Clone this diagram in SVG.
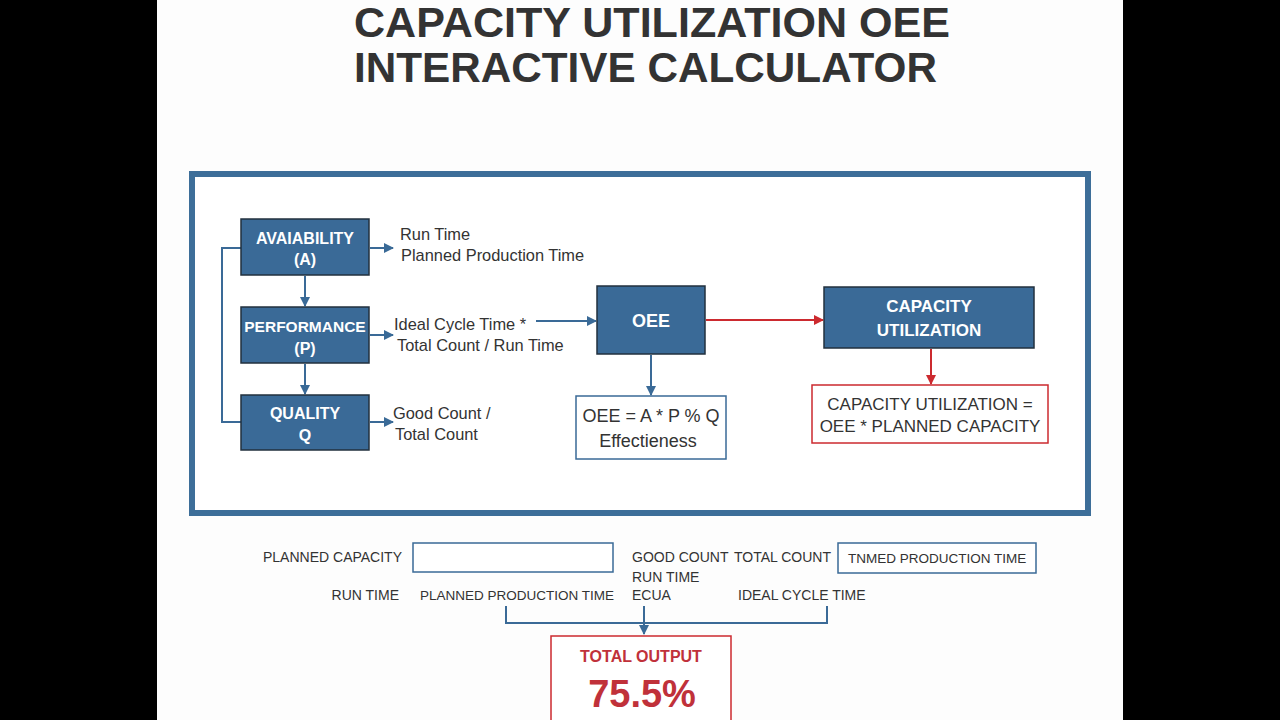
<svg xmlns="http://www.w3.org/2000/svg" width="1280" height="720" viewBox="0 0 1280 720">
<style>
.title{font-family:"Liberation Sans",Arial,sans-serif;font-weight:bold;font-size:42px;fill:#333}
.bx{fill:#3a6a97;stroke:#22303e;stroke-width:1.5}
.bt{font-family:"Liberation Sans",Arial,sans-serif;font-weight:bold;font-size:16px;fill:#fff;text-anchor:middle}
.lbl{font-family:"Liberation Sans",Arial,sans-serif;font-size:16.4px;fill:#333}
.sm{font-family:"Liberation Sans",Arial,sans-serif;font-size:14px;fill:#333}
.bl{stroke:#3a6a97;stroke-width:2;fill:none}
.rd{stroke:#cc2a2f;stroke-width:2;fill:none}
</style>
<defs>
<marker id="ab" markerWidth="10" markerHeight="10" refX="9" refY="5" orient="auto" markerUnits="userSpaceOnUse"><path d="M0,0 L10,5 L0,10 z" fill="#3a6a97"/></marker>
<marker id="ar" markerWidth="10" markerHeight="10" refX="9" refY="5" orient="auto" markerUnits="userSpaceOnUse"><path d="M0,0 L10,5 L0,10 z" fill="#cc2a2f"/></marker>
</defs>
<rect x="0" y="0" width="1280" height="720" fill="#000"/>
<rect x="157" y="0" width="966" height="720" fill="#fdfdfd"/>
<text class="title" x="354" y="37" textLength="596" lengthAdjust="spacingAndGlyphs">CAPACITY UTILIZATION OEE</text>
<text class="title" x="354" y="82" textLength="583" lengthAdjust="spacingAndGlyphs">INTERACTIVE CALCULATOR</text>
<rect x="192" y="174" width="896" height="339" fill="#fff" stroke="#3d6e99" stroke-width="6"/>
<g id="connectors">
<path class="bl" d="M241,248 H222 V422 H241"/>
<line class="bl" x1="305" y1="276" x2="305" y2="306" marker-end="url(#ab)"/>
<line class="bl" x1="305" y1="364" x2="305" y2="394" marker-end="url(#ab)"/>
<line class="bl" x1="370" y1="248" x2="393" y2="248" marker-end="url(#ab)"/>
<line class="bl" x1="370" y1="335" x2="393" y2="335" marker-end="url(#ab)"/>
<line class="bl" x1="370" y1="422" x2="393" y2="422" marker-end="url(#ab)"/>
<line class="bl" x1="536" y1="321" x2="596" y2="321" marker-end="url(#ab)"/>
<line class="rd" x1="706" y1="320" x2="823" y2="320" marker-end="url(#ar)"/>
<line class="bl" x1="651" y1="355" x2="651" y2="395" marker-end="url(#ab)"/>
<line class="rd" x1="931" y1="349" x2="931" y2="384" marker-end="url(#ar)"/>
<path class="bl" d="M506,606 V623 H827 V606"/>
<line class="bl" x1="644" y1="606" x2="644" y2="634" marker-end="url(#ab)"/>
</g>
<g id="availability"><rect class="bx" x="241" y="219" width="128" height="56"/><text class="bt" x="305" y="244">AVAIABILITY</text><text class="bt" x="305" y="265">(A)</text></g>
<g id="performance"><rect class="bx" x="241" y="307" width="128" height="56"/><text class="bt" x="305" y="332" style="font-size:15.5px">PERFORMANCE</text><text class="bt" x="305" y="354">(P)</text></g>
<g id="quality"><rect class="bx" x="241" y="395" width="128" height="55"/><text class="bt" x="305" y="419">QUALITY</text><text class="bt" x="305" y="441">Q</text></g>
<g id="avail-label"><text class="lbl" x="400" y="240">Run Time</text><text class="lbl" x="401" y="261">Planned Production Time</text></g>
<g id="perf-label"><text class="lbl" x="394" y="330">Ideal Cycle Time *</text><text class="lbl" x="397" y="351">Total Count / Run Time</text></g>
<g id="qual-label"><text class="lbl" x="393" y="419">Good Count /</text><text class="lbl" x="395" y="440">Total Count</text></g>
<g id="oee"><rect class="bx" x="597" y="286" width="108" height="68"/><text class="bt" x="651" y="327" style="font-size:18px">OEE</text></g>
<g id="capacity-utilization"><rect class="bx" x="824" y="287" width="210" height="61"/><text class="bt" x="929" y="312" style="font-size:17px">CAPACITY</text><text class="bt" x="929" y="336" style="font-size:17px">UTILIZATION</text></g>
<g id="oee-formula"><rect x="576" y="396" width="150" height="63" fill="#fff" stroke="#3a6a97" stroke-width="1.5"/><text class="lbl" x="651" y="422" text-anchor="middle" style="font-size:18px">OEE = A * P % Q</text><text class="lbl" x="648" y="447" text-anchor="middle" style="font-size:18px">Effectieness</text></g>
<g id="cu-formula"><rect x="812" y="385" width="236" height="58" fill="#fff" stroke="#cc2a2f" stroke-width="1.5"/><text class="lbl" x="930" y="410" text-anchor="middle" style="font-size:17px">CAPACITY UTILIZATION =</text><text class="lbl" x="930" y="432" text-anchor="middle" style="font-size:17px">OEE * PLANNED CAPACITY</text></g>
<g id="inputs">
<text class="sm" x="402" y="562" text-anchor="end">PLANNED CAPACITY</text>
<rect x="413" y="543" width="200" height="29" fill="#fff" stroke="#3a6a97" stroke-width="1.5"/>
<text class="sm" x="632" y="562">GOOD COUNT</text>
<text class="sm" x="734" y="562">TOTAL COUNT</text>
<rect x="838" y="543" width="198" height="30" fill="#fff" stroke="#3a6a97" stroke-width="1.5"/>
<text class="sm" x="848" y="563" style="font-size:13.5px">TNMED PRODUCTION TIME</text>
<text class="sm" x="632" y="582">RUN TIME</text>
<text class="sm" x="632" y="600">ECUA</text>
<text class="sm" x="399" y="600" text-anchor="end">RUN TIME</text>
<text class="sm" x="420" y="600" style="font-size:13.5px">PLANNED PRODUCTION TIME</text>
<text class="sm" x="738" y="600">IDEAL CYCLE TIME</text>
</g>
<g id="total-output"><rect x="551" y="636" width="180" height="90" fill="#fff" stroke="#cc2a2f" stroke-width="1.5"/><text x="641" y="662" text-anchor="middle" style="font-family:'Liberation Sans',Arial,sans-serif;font-weight:bold;font-size:16px;fill:#c0313a">TOTAL OUTPUT</text><text x="642" y="707" text-anchor="middle" style="font-family:'Liberation Sans',Arial,sans-serif;font-weight:bold;font-size:38px;fill:#c0313a">75.5%</text></g>
</svg>
